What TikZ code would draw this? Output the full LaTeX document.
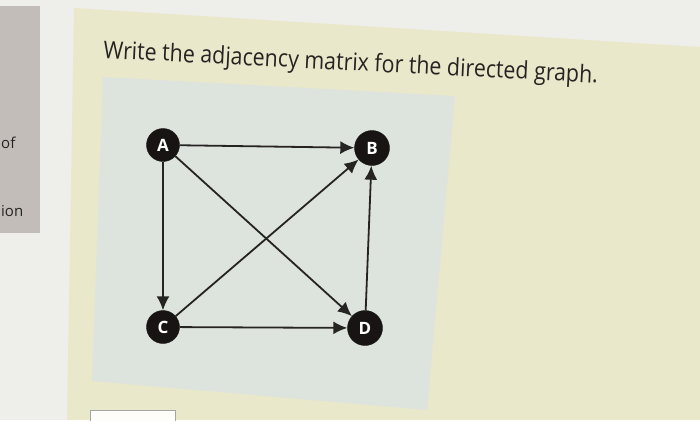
\documentclass[tikz,border=0pt]{standalone}
\usepackage{fontspec}
\setmainfont{Open Sans}
\usetikzlibrary{arrows.meta}
\definecolor{screenbg}{RGB}{238,238,234}
\definecolor{sidegray}{RGB}{194,189,184}
\definecolor{cream}{RGB}{234,232,202}
\definecolor{boxbg}{RGB}{221,227,221}
\definecolor{ink}{RGB}{38,36,34}
\definecolor{nodeblk}{RGB}{24,20,20}
\tikzset{
  vertex/.style={circle, fill=nodeblk, draw=nodeblk, minimum size=33pt, inner sep=0pt,
    text=white, font=\fontsize{17}{17}\selectfont\bfseries},
  edge/.style={draw=ink, line width=1.8pt, -{Latex[length=14pt,width=13pt]}},
}
\begin{document}
\begin{tikzpicture}[x=1pt,y=-1pt]
\useasboundingbox (0,0) rectangle (700,420);
\clip (0,0) rectangle (700,420);
% screen background
\fill[screenbg] (0,0) rectangle (700,420);
% left gray panel
\fill[sidegray] (-5,6) rectangle (40,233);
\node[anchor=base west, inner sep=0pt, text=ink, font=\fontsize{15}{15}\selectfont] (of) at (1,148) {of};
\node[anchor=base west, inner sep=0pt, text=ink, font=\fontsize{15}{15}\selectfont] (ion) at (1,216) {ion};
% cream content panel
\fill[cream] (74,8) -- (700,47) -- (700,420) -- (67,420) -- cycle;
% graph image box
\fill[boxbg] (103,77) -- (455,96) -- (427,410) -- (92,381) -- cycle;
% title
\node[anchor=base west, rotate=-2.9, inner sep=0pt, text=ink] (title) at (103,58)
  {\scalebox{1}[1.13]{\resizebox{495pt}{!}{\fontsize{20}{20}\selectfont Write the adjacency matrix for the directed graph.}}};
% bottom small box
\draw[gray!70, fill=white!90!cream, line width=0.8pt] (90,410) rectangle (175,430);
% nodes
\node[vertex] (A) at (163,145) {A};
\node[vertex, minimum size=35pt] (B) at (372,148) {B};
\node[vertex] (C) at (163,327) {C};
\node[vertex, minimum size=35pt] (D) at (365,328) {D};
% edges
\draw[edge] (A) -- (B);
\draw[edge] (A) -- (C);
\draw[edge] (A) -- (D);
\draw[edge] (C) -- (B);
\draw[edge] (C) -- (D);
\draw[edge] (D) -- (B);
\end{tikzpicture}
\end{document}
